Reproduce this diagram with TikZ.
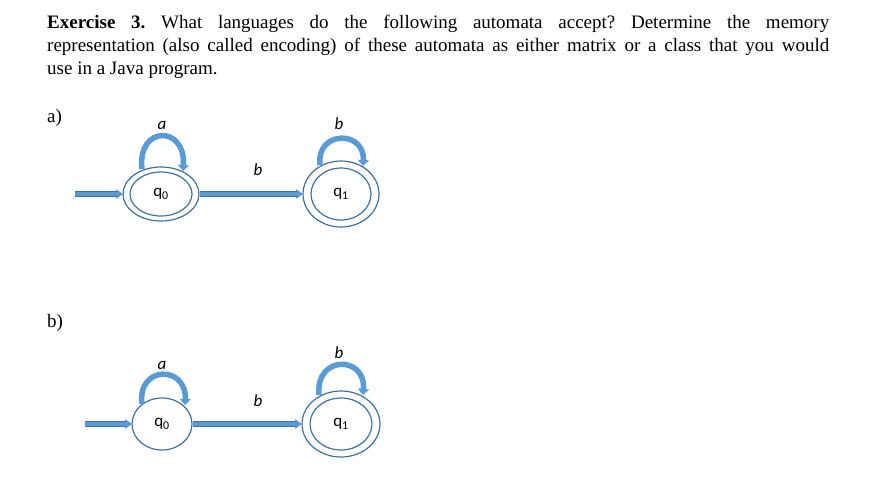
\documentclass[tikz,border=0pt]{standalone}
\usepackage{fontspec}
\setmainfont{Liberation Serif}
\newfontfamily\calib{Carlito}
\usetikzlibrary{shapes.geometric,arrows.meta,calc}
\definecolor{lblue}{HTML}{5B9BD5}
\definecolor{dblue}{HTML}{41719C}
\begin{document}
\begin{tikzpicture}[x=1pt,y=1pt,
 state/.style={ellipse, draw=dblue, line width=1.2pt, inner sep=0pt, font=\calib\fontsize{17}{17}\selectfont},
 inring/.style={draw=dblue, line width=1.2pt},
 trans/.style={draw=lblue, line width=3.4pt, -{Triangle[length=5.5pt,width=8pt]},
   preaction={draw=dblue, line width=5.2pt, -{Triangle[length=6pt,width=9pt]}}},
 loopst/.style={draw=lblue, line width=5.5pt, -{Triangle[length=6pt,width=11pt]}},
 lbl/.style={font=\calib\itshape\fontsize{17}{17}\selectfont, inner sep=0pt},
 ex/.style={font=\fontsize{19}{23}\selectfont, inner sep=0pt}]
\useasboundingbox (0,0) rectangle (872,-498);
\node[ex, anchor=base west, text width=782pt, align=justify] (txt) at (47,-28)
 {\frenchspacing\noindent\textbf{Exercise 3.} What languages do the following automata accept? Determine the memory\linebreak
 representation (also called encoding) of these automata as either matrix or a class that you would\linebreak
 use in a Java program.};
\node[ex, anchor=base west] (parta) at (47,-122) {a)};
\node[ex, anchor=base west] (partb) at (47,-327) {b)};
% ---- a)
\node[state, minimum width=76pt, minimum height=54pt] (qa0) at (161,-194) {q\textsubscript{0}};
\draw[inring] (qa0.center) ellipse [x radius=31, y radius=22];
\node[state, minimum width=76pt, minimum height=66pt] (qa1) at (341,-194) {q\textsubscript{1}};
\draw[inring] (qa1.center) ellipse [x radius=30, y radius=26];
\coordinate (sa) at (75,-194);
\draw[trans] (sa) -- (qa0.west);
\draw[trans] (qa0.east) -- (qa1.west);
\node[lbl] (lab) at (258,-170) {b};
\draw[loopst] ($(qa0.center)+(-19,25)$) .. controls ($(qa0.center)+(-24,69)$) and ($(qa0.center)+(25,69)$) .. ($(qa0.center)+(22,23)$);
\node[lbl] (laa) at (162,-125) {a};
\draw[loopst] ($(qa1.center)+(-21,29)$) .. controls ($(qa1.center)+(-25,64)$) and ($(qa1.center)+(24,64)$) .. ($(qa1.center)+(22,28)$);
\node[lbl] (lab1) at (339,-124) {b};
% ---- b)
\node[state, minimum width=60pt, minimum height=52pt] (qb0) at (162,-424) {q\textsubscript{0}};
\node[state, minimum width=78pt, minimum height=66pt] (qb1) at (341,-424) {q\textsubscript{1}};
\draw[inring] (qb1.center) ellipse [x radius=31, y radius=26];
\coordinate (sb) at (85,-424);
\draw[trans] (sb) -- (qb0.west);
\draw[trans] (qb0.east) -- (qb1.west);
\node[lbl] (lbb) at (258,-401) {b};
\draw[loopst] ($(qb0.center)+(-20,20)$) .. controls ($(qb0.center)+(-25,59)$) and ($(qb0.center)+(25,59)$) .. ($(qb0.center)+(23,19)$);
\node[lbl] (lba) at (162,-365) {a};
\draw[loopst] ($(qb1.center)+(-22,29)$) .. controls ($(qb1.center)+(-26,69)$) and ($(qb1.center)+(25,69)$) .. ($(qb1.center)+(22,29)$);
\node[lbl] (lbb1) at (339,-353) {b};
\end{tikzpicture}
\end{document}
